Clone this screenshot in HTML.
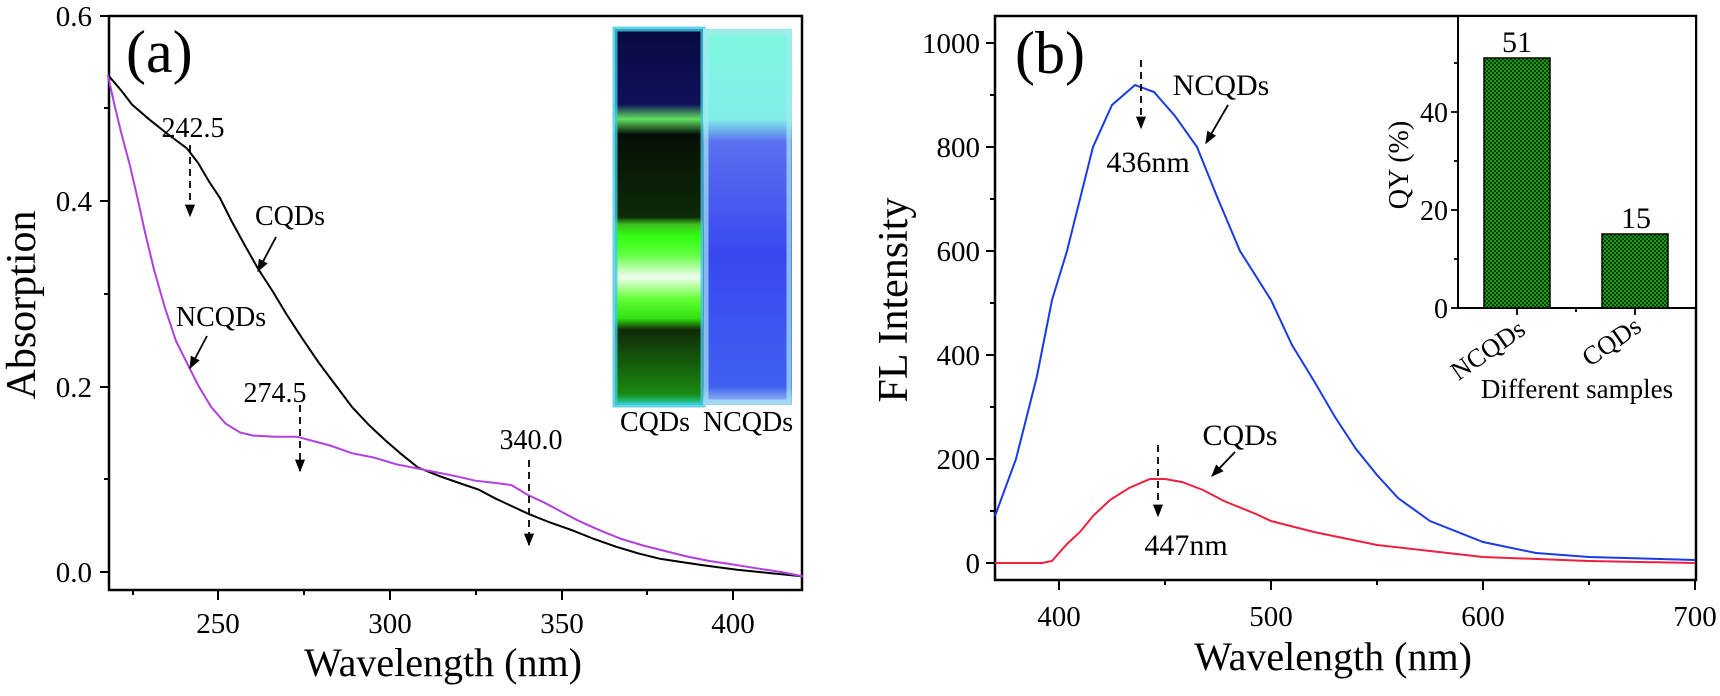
<!DOCTYPE html>
<html><head><meta charset="utf-8"><style>
html,body{margin:0;padding:0;background:#fff;}
svg{display:block;}
svg text{font-family:"Liberation Serif","Times New Roman",serif;}
</style></head><body>
<svg width="1720" height="696" viewBox="0 0 1720 696" xmlns="http://www.w3.org/2000/svg">
<defs>
<marker id="ah" viewBox="0 0 10 10" refX="9" refY="5" markerWidth="7" markerHeight="7" orient="auto"><path d="M0,1 L10,5 L0,9 z" fill="#000"/></marker>
<pattern id="chk" width="4" height="4" patternUnits="userSpaceOnUse"><rect width="4" height="4" fill="#1a9a10"/><rect width="2" height="2" fill="#0a3a05"/><rect x="2" y="2" width="2" height="2" fill="#0a3a05"/></pattern>
<linearGradient id="cq" x1="0" y1="0" x2="0" y2="1">
<stop offset="0" stop-color="#0a0a40"/><stop offset="0.2" stop-color="#10105a"/><stop offset="0.24" stop-color="#60e060"/><stop offset="0.28" stop-color="#061006"/><stop offset="0.5" stop-color="#0c2a08"/><stop offset="0.52" stop-color="#40c020"/><stop offset="0.55" stop-color="#30ff10"/><stop offset="0.6" stop-color="#60ff40"/><stop offset="0.66" stop-color="#f0fff0"/><stop offset="0.72" stop-color="#60ff30"/><stop offset="0.77" stop-color="#30e010"/><stop offset="0.8" stop-color="#102a08"/><stop offset="0.97" stop-color="#1a8a10"/><stop offset="1" stop-color="#20d0b0"/></linearGradient>
<linearGradient id="nq" x1="0" y1="0" x2="0" y2="1">
<stop offset="0" stop-color="#80f8e0"/><stop offset="0.24" stop-color="#80eee8"/><stop offset="0.3" stop-color="#5a70f0"/><stop offset="0.6" stop-color="#3848f0"/><stop offset="0.95" stop-color="#4060f0"/><stop offset="1" stop-color="#a0c8f8"/></linearGradient>
</defs>

<!-- Panel a -->
<rect x="109" y="16" width="693" height="574" fill="none" stroke="#000" stroke-width="2.5"/>
<g stroke="#000" stroke-width="2">
<line x1="100" y1="16" x2="109" y2="16"/><line x1="100" y1="201" x2="109" y2="201"/><line x1="100" y1="387" x2="109" y2="387"/><line x1="100" y1="572" x2="109" y2="572"/>
<line x1="104" y1="108" x2="109" y2="108"/><line x1="104" y1="294" x2="109" y2="294"/><line x1="104" y1="479" x2="109" y2="479"/>
<line x1="218" y1="590" x2="218" y2="600"/><line x1="390" y1="590" x2="390" y2="600"/><line x1="562" y1="590" x2="562" y2="600"/><line x1="733" y1="590" x2="733" y2="600"/>
<line x1="133" y1="590" x2="133" y2="595"/><line x1="304" y1="590" x2="304" y2="595"/><line x1="476" y1="590" x2="476" y2="595"/><line x1="647" y1="590" x2="647" y2="595"/>
</g>
<g font-size="29" text-anchor="end">
<text x="92" y="26">0.6</text><text x="92" y="211">0.4</text><text x="92" y="397">0.2</text><text x="92" y="582">0.0</text></g>
<g font-size="29" text-anchor="middle">
<text x="218" y="633">250</text><text x="390" y="633">300</text><text x="562" y="633">350</text><text x="733" y="633">400</text></g>
<text x="443" y="676" font-size="40" text-anchor="middle">Wavelength (nm)</text>
<text transform="translate(35,305) rotate(-90)" font-size="42" text-anchor="middle">Absorption</text>
<text x="126" y="72" font-size="60">(a)</text>

<g transform="scale(1.1)" fill="none">
<polyline vector-effect="non-scaling-stroke" stroke="#000" stroke-width="2" points="98,68 110,82 120,95 135,108 150,120 170,135 180,148 190,165 200,180 210,200 222,222 235,245 248,265 260,285 275,308 290,330 305,350 320,370 335,386 350,400 365,413 380,425 400,433 420,440 435,445 450,453 465,460 480,467 500,475 520,482 540,490 560,497 580,503 600,508 620,511 640,514 670,518 700,521 730,524"/>
<polyline vector-effect="non-scaling-stroke" stroke="#b040e0" stroke-width="2" points="98,68 104,95 110,120 118,150 125,180 132,212 140,245 150,280 160,310 172,334 180,350 192,370 205,385 218,393 230,396 250,397 270,397 285,401 300,405 320,412 340,416 360,422 380,426 400,430 415,433 432,437 450,439 465,441 480,450 495,457 510,465 525,473 545,482 565,490 585,496 605,501 625,506 645,510 665,513 690,517 710,520 730,524"/>
</g>
<!-- inset photo -->
<rect x="615" y="29" width="88" height="376" fill="url(#cq)"/>
<rect x="615" y="29" width="88" height="376" fill="none" stroke="#40c8e0" stroke-width="5" opacity="0.8"/>
<rect x="703" y="29" width="89" height="376" fill="url(#nq)"/>
<rect x="706" y="32" width="83" height="370" fill="none" stroke="#a8e8f0" stroke-width="5" opacity="0.7"/>
<text x="655" y="431" font-size="28" text-anchor="middle">CQDs</text>
<text x="748" y="431" font-size="28" text-anchor="middle">NCQDs</text>
<!-- annotations a -->
<g font-size="28" text-anchor="middle">
<text x="193" y="137">242.5</text><text x="290" y="225">CQDs</text><text x="221" y="326">NCQDs</text><text x="275" y="402">274.5</text><text x="531" y="449">340.0</text></g>
<g stroke="#000" stroke-width="1.8" fill="none">
<line x1="190" y1="145" x2="190" y2="216" stroke-dasharray="7,5" marker-end="url(#ah)"/>
<line x1="300" y1="405" x2="300" y2="471" stroke-dasharray="7,5" marker-end="url(#ah)"/>
<line x1="529" y1="460" x2="529" y2="545" stroke-dasharray="7,5" marker-end="url(#ah)"/>
<line x1="276" y1="237" x2="258" y2="271" marker-end="url(#ah)"/>
<line x1="207" y1="336" x2="190" y2="368" marker-end="url(#ah)"/>
</g>

<!-- Panel b -->
<rect x="995" y="16" width="701" height="564" fill="none" stroke="#000" stroke-width="2.5"/>
<g stroke="#000" stroke-width="2">
<line x1="986" y1="43" x2="995" y2="43"/><line x1="986" y1="147" x2="995" y2="147"/><line x1="986" y1="251" x2="995" y2="251"/><line x1="986" y1="355" x2="995" y2="355"/><line x1="986" y1="459" x2="995" y2="459"/><line x1="986" y1="563" x2="995" y2="563"/>
<line x1="990" y1="95" x2="995" y2="95"/><line x1="990" y1="199" x2="995" y2="199"/><line x1="990" y1="303" x2="995" y2="303"/><line x1="990" y1="407" x2="995" y2="407"/><line x1="990" y1="511" x2="995" y2="511"/>
<line x1="1059" y1="580" x2="1059" y2="590"/><line x1="1271" y1="580" x2="1271" y2="590"/><line x1="1483" y1="580" x2="1483" y2="590"/><line x1="1695" y1="580" x2="1695" y2="590"/>
<line x1="1165" y1="580" x2="1165" y2="585"/><line x1="1377" y1="580" x2="1377" y2="585"/><line x1="1589" y1="580" x2="1589" y2="585"/>
</g>
<g font-size="29" text-anchor="end">
<text x="980" y="53">1000</text><text x="980" y="157">800</text><text x="980" y="261">600</text><text x="980" y="365">400</text><text x="980" y="469">200</text><text x="980" y="573">0</text></g>
<g font-size="29" text-anchor="middle">
<text x="1059" y="626">400</text><text x="1271" y="626">500</text><text x="1483" y="626">600</text><text x="1695" y="626">700</text></g>
<text x="1333" y="670" font-size="40" text-anchor="middle">Wavelength (nm)</text>
<text transform="translate(907,300) rotate(-90)" font-size="42" text-anchor="middle">FL Intensity</text>
<text x="1015" y="73" font-size="60">(b)</text>

<polyline fill="none" stroke="#1a3ae8" stroke-width="2" points="995,516 1016,459 1037,376 1052,300 1067,251 1093,147 1112,105 1135,85 1154,92 1175,116 1197,147 1218,199 1240,251 1271,300 1292,345 1314,381 1335,417 1356,449 1377,475 1398,498 1430,521 1483,542 1536,553 1589,557 1695,560"/>
<polyline fill="none" stroke="#f0203c" stroke-width="2" points="995,563 1042,563 1052,561 1059,553 1067,544 1080,532 1093,516 1110,500 1129,488 1150,479 1165,479 1182,482 1203,490 1224,501 1256,514 1271,521 1314,532 1377,545 1483,557 1589,561 1695,563"/>
<g font-size="30" text-anchor="middle">
<text x="1221" y="95">NCQDs</text><text x="1148" y="172">436nm</text><text x="1240" y="445">CQDs</text><text x="1186" y="555">447nm</text></g>
<g stroke="#000" stroke-width="1.8" fill="none">
<line x1="1141" y1="60" x2="1141" y2="128" stroke-dasharray="7,5" marker-end="url(#ah)"/>
<line x1="1158" y1="445" x2="1158" y2="516" stroke-dasharray="7,5" marker-end="url(#ah)"/>
<line x1="1228" y1="105" x2="1206" y2="143" marker-end="url(#ah)"/>
<line x1="1235" y1="452" x2="1212" y2="476" marker-end="url(#ah)"/>
</g>

<!-- inset -->
<rect x="1458" y="16" width="238" height="292" fill="#fff" stroke="#000" stroke-width="2"/>
<g stroke="#000" stroke-width="1.8">
<line x1="1451" y1="112" x2="1458" y2="112"/><line x1="1451" y1="210" x2="1458" y2="210"/><line x1="1451" y1="308" x2="1458" y2="308"/>
<line x1="1454" y1="63" x2="1458" y2="63"/><line x1="1454" y1="161" x2="1458" y2="161"/><line x1="1454" y1="259" x2="1458" y2="259"/>
<line x1="1517" y1="308" x2="1517" y2="315"/><line x1="1635" y1="308" x2="1635" y2="315"/><line x1="1576" y1="308" x2="1576" y2="312"/>
</g>
<rect x="1484" y="58" width="66" height="250" fill="url(#chk)" stroke="#000" stroke-width="1.5"/>
<rect x="1602" y="234" width="66" height="74" fill="url(#chk)" stroke="#000" stroke-width="1.5"/>
<g font-size="30" text-anchor="middle"><text x="1517" y="52">51</text><text x="1636" y="228">15</text></g>
<g font-size="28" text-anchor="end"><text x="1448" y="122">40</text><text x="1448" y="220">20</text><text x="1448" y="318">0</text></g>
<text transform="translate(1408,165) rotate(-90)" font-size="28" text-anchor="middle">QY (%)</text>
<text transform="translate(1527,333) rotate(-35)" font-size="26" text-anchor="end">NCQDs</text>
<text transform="translate(1643,330) rotate(-35)" font-size="26" text-anchor="end">CQDs</text>
<text x="1577" y="398" font-size="27" text-anchor="middle">Different samples</text>
</svg>
</body></html>
